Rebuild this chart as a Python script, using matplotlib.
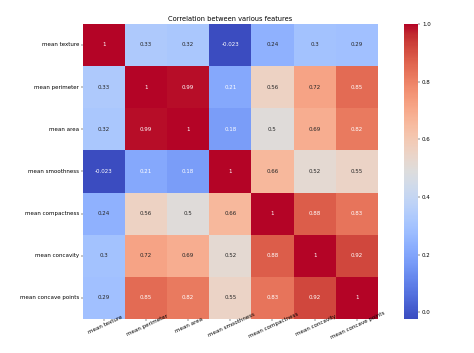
import numpy as np
import pandas as pd
import matplotlib
matplotlib.use('Agg')
import matplotlib.pyplot as plt
import seaborn as sns

# 特征名称
features = ['mean texture', 'mean perimeter', 'mean area', 'mean smoothness',
            'mean compactness', 'mean concavity', 'mean concave points']

# 相关系数矩阵 (按行)
row_texture = [1, 0.33, 0.32, -0.023, 0.24, 0.3, 0.29]
row_perimeter = [0.33, 1, 0.99, 0.21, 0.56, 0.72, 0.85]
row_area = [0.32, 0.99, 1, 0.18, 0.5, 0.69, 0.82]
row_smoothness = [-0.023, 0.21, 0.18, 1, 0.66, 0.52, 0.55]
row_compactness = [0.24, 0.56, 0.5, 0.66, 1, 0.88, 0.83]
row_concavity = [0.3, 0.72, 0.69, 0.52, 0.88, 1, 0.92]
row_concave_points = [0.29, 0.85, 0.82, 0.55, 0.83, 0.92, 1]

corr = pd.DataFrame([row_texture, row_perimeter, row_area, row_smoothness,
                     row_compactness, row_concavity, row_concave_points],
                    index=features, columns=features)

fig = plt.figure(figsize=(474 / 40, 353 / 40), dpi=40)
ax = fig.add_axes([0.175, 0.0963, 0.622, 0.836])
cax = fig.add_axes([0.852, 0.0963, 0.030, 0.836])

sns.heatmap(corr, annot=True, cmap='coolwarm', ax=ax, cbar_ax=cax)
ax.set_title('Correlation between various features')
plt.setp(ax.get_xticklabels(), rotation=25, ha='center', rotation_mode='anchor')

fig.savefig('out.png', dpi=40)
